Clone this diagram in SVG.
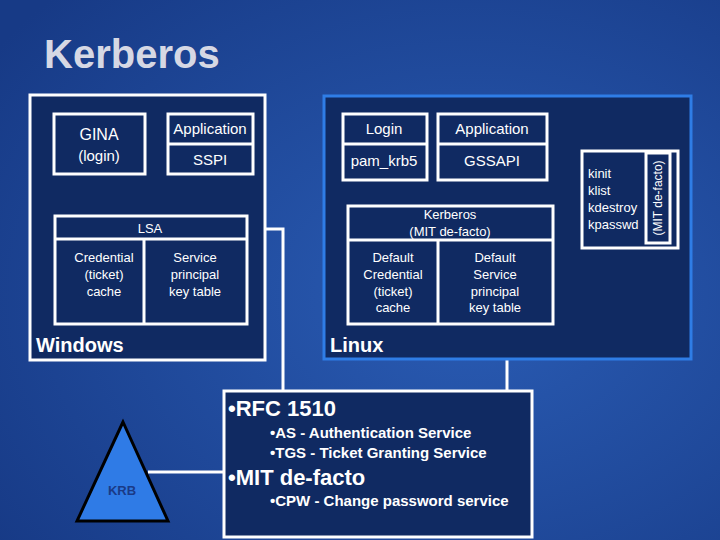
<svg xmlns="http://www.w3.org/2000/svg" width="720" height="540" viewBox="0 0 720 540">
<defs>
<radialGradient id="bg" cx="0.65" cy="0.55" r="0.8">
<stop offset="0" stop-color="#2a5cb4"/><stop offset="1" stop-color="#173a86"/>
</radialGradient>
<style>
.b{fill:#102a62;stroke:#fff;stroke-width:3}
.l{fill:none;stroke:#fff;stroke-width:3}
text{font-family:"Liberation Sans",Arial,sans-serif;fill:#fff}
.s{font-size:15px;text-anchor:middle}
.m{font-size:13px;text-anchor:middle}
.h{font-size:20px;font-weight:bold}
</style>
</defs>
<rect width="720" height="540" fill="url(#bg)"/>
<text x="44" y="68" style="font-size:40px;font-weight:bold;fill:#d6d8e4">Kerberos</text>
<g id="connectors">
<path class="l" d="M99,174V195H210V174M150,195V216"/>
<path class="l" d="M265,229H283V391"/>
<path class="l" d="M385,180V192H493V180M450,192V206"/>
<path class="l" d="M553,222H568V201H582"/>
<path class="l" d="M507,359V391"/>
<path class="l" d="M148,472H224"/>
</g>
<g id="windows">
<rect class="b" x="30" y="95" width="235" height="265"/>
<text x="36" y="352" class="h">Windows</text>
</g>
<g id="gina"><rect class="b" x="54" y="114" width="91" height="60"/>
<text x="99" y="140" class="s" style="font-size:16px">GINA</text>
<text x="99" y="161" class="s">(login)</text></g>
<g id="sspi"><rect class="b" x="168" y="114" width="85" height="60"/><path class="l" d="M168,144H253"/>
<text x="210" y="134" class="s">Application</text><text x="210" y="165" class="s">SSPI</text></g>
<g id="lsa"><rect class="b" x="55" y="216" width="192" height="108"/><path class="l" d="M55,239H247M144,239V324"/>
<text x="150" y="233" class="m">LSA</text>
<text x="104" y="262" class="m">Credential</text><text x="104" y="279" class="m">(ticket)</text><text x="104" y="296" class="m">cache</text>
<text x="195" y="262" class="m">Service</text><text x="195" y="279" class="m">principal</text><text x="195" y="296" class="m">key table</text></g>
<g id="linux">
<rect x="324" y="96" width="367" height="263" fill="#102a62" stroke="#2f7de6" stroke-width="3"/>
<text x="330" y="352" class="h">Linux</text>
</g>
<g id="login"><rect class="b" x="343" y="114" width="84" height="66"/><path class="l" d="M343,144H427"/>
<text x="384" y="134" class="s">Login</text><text x="384" y="166" class="s">pam_krb5</text></g>
<g id="gssapi"><rect class="b" x="438" y="114" width="109" height="66"/><path class="l" d="M438,144H547"/>
<text x="492" y="134" class="s">Application</text><text x="492" y="166" class="s">GSSAPI</text></g>
<g id="kerberos"><rect class="b" x="348" y="206" width="205" height="118"/><path class="l" d="M348,240H553M438,240V324"/>
<text x="450" y="219" class="m">Kerberos</text><text x="450" y="236" class="m">(MIT de-facto)</text>
<text x="393" y="262" class="m">Default</text><text x="393" y="279" class="m">Credential</text><text x="393" y="296" class="m">(ticket)</text><text x="393" y="312" class="m">cache</text>
<text x="495" y="262" class="m">Default</text><text x="495" y="279" class="m">Service</text><text x="495" y="296" class="m">principal</text><text x="495" y="312" class="m">key table</text></g>
<g id="tools"><rect class="b" x="582" y="151" width="96" height="97"/><rect class="b" x="646" y="153" width="24" height="90"/>
<text x="588" y="178" style="font-size:13px">kinit</text><text x="588" y="195" style="font-size:13px">klist</text>
<text x="588" y="212" style="font-size:13px">kdestroy</text><text x="588" y="229" style="font-size:13px">kpasswd</text>
<text transform="translate(662,198) rotate(-90)" class="m" style="font-size:12px">(MIT de-facto)</text></g>
<g id="krb"><polygon points="123,422 77,521 168,521" fill="#2f7be6" stroke="#000" stroke-width="3"/>
<text x="122" y="495" class="m" style="font-weight:bold;fill:#1a3a86;font-size:13px">KRB</text></g>
<g id="rfc"><rect class="b" x="224" y="391" width="308" height="146"/>
<text x="228" y="416" style="font-size:22px;font-weight:bold">•RFC 1510</text>
<text x="270" y="438" style="font-size:15px;font-weight:bold">•AS - Authentication Service</text>
<text x="270" y="458" style="font-size:15px;font-weight:bold">•TGS - Ticket Granting Service</text>
<text x="228" y="485" style="font-size:22px;font-weight:bold">•MIT de-facto</text>
<text x="270" y="506" style="font-size:15px;font-weight:bold">•CPW - Change password service</text></g>
</svg>
